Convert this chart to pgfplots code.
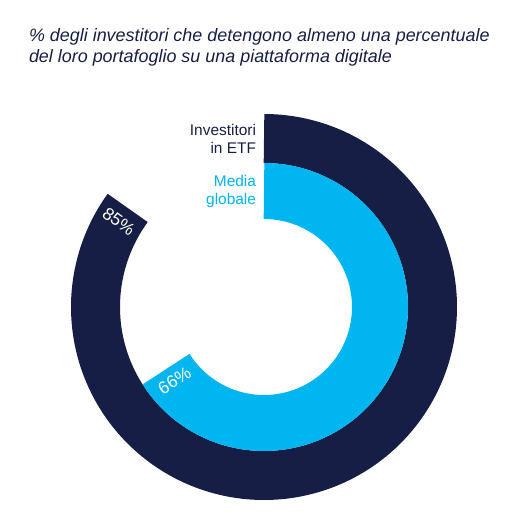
\documentclass[border=0pt]{standalone}
\usepackage{fontspec}
\setmainfont{Liberation Sans}
\usepackage{pgfplots}
\usepgfplotslibrary{polar}
\pgfplotsset{compat=1.18}
\definecolor{navy}{RGB}{22,30,69}
\definecolor{cyanb}{RGB}{0,181,240}
\begin{document}
\begin{tikzpicture}[x=1bp,y=1bp]
\path[use as bounding box] (0,0) rectangle (528,528);
\begin{polaraxis}[at={(264bp,221bp)}, anchor=origin, scale only axis,
  width=386bp, height=386bp, ymin=0, ymax=193, xmin=0, xmax=360,
  hide axis, clip=false]
% Investitori in ETF: 85% -> 306 degrees clockwise from 12 o'clock
\addplot[navy, line width=49bp, domain={90-3.6*85}:90, samples=240, no marks] {168.5};
% Media globale: 66%
\addplot[cyanb, line width=56bp, domain={90-3.6*66}:90, samples=200, no marks] {116};
\node[white, rotate=-36, inner sep=0pt, font=\fontsize{17.5}{17.5}\selectfont] at (axis cs:149.5,168.5) {85\%};
\node[white, rotate=32, inner sep=0pt, font=\fontsize{17.5}{17.5}\selectfont] at (axis cs:219.5,116) {66\%};
\end{polaraxis}
\begin{scope}[every node/.style={inner sep=0pt, outer sep=0pt}]
\node[anchor=base west, text=navy, font=\fontsize{18}{18}\selectfont\itshape] at (29,486.5) {\% degli investitori che detengono almeno una percentuale};
\node[anchor=base west, text=navy, font=\fontsize{18}{18}\selectfont\itshape] at (29,465) {del loro portafoglio su una piattaforma digitale};
\node[anchor=base east, text=navy, font=\fontsize{15.5}{15.5}\selectfont] at (256,392) {Investitori};
\node[anchor=base east, text=navy, font=\fontsize{15.5}{15.5}\selectfont] at (256,374) {in ETF};
\node[anchor=base east, text=cyanb, font=\fontsize{15.5}{15.5}\selectfont] at (256,341) {Media};
\node[anchor=base east, text=cyanb, font=\fontsize{15.5}{15.5}\selectfont] at (256,323) {globale};
\end{scope}
\end{tikzpicture}
\end{document}
